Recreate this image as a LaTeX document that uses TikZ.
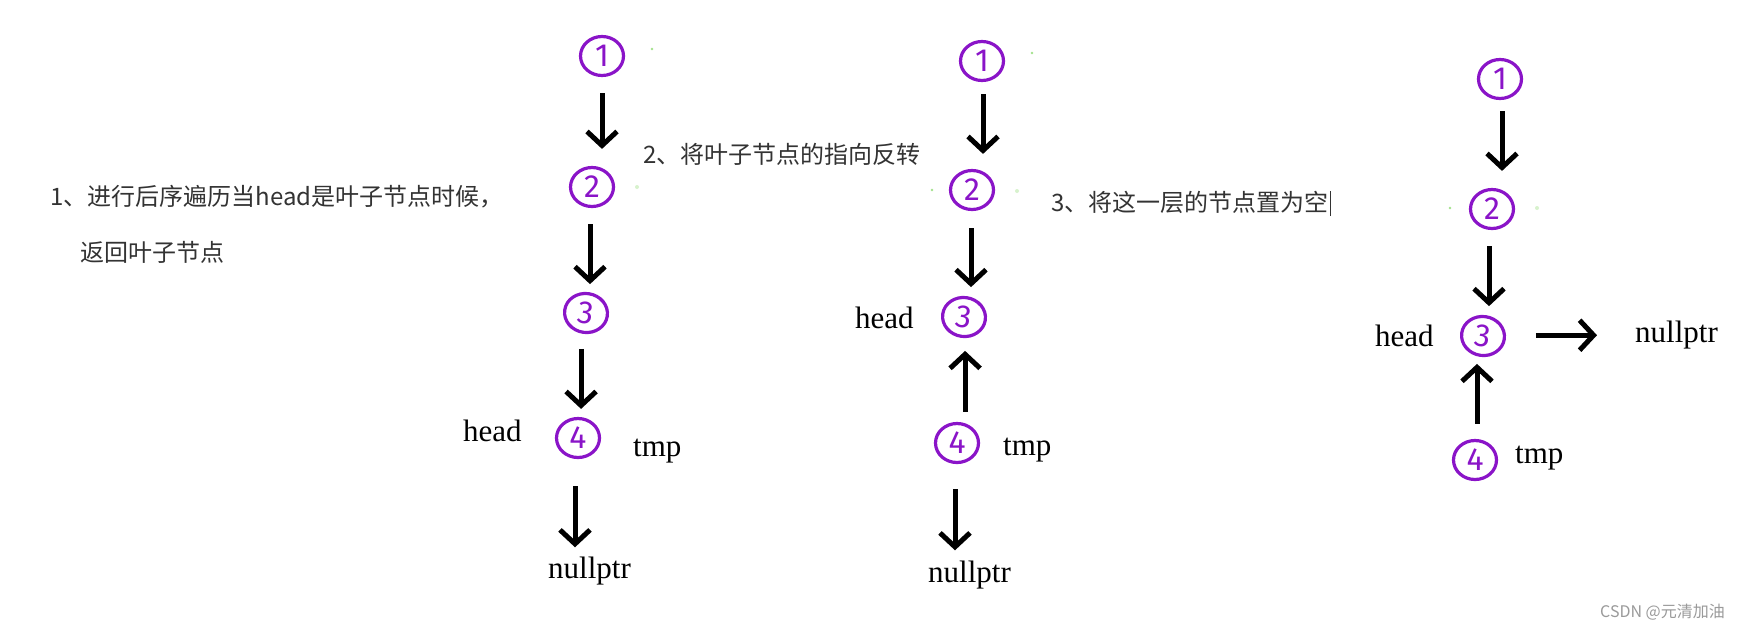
\documentclass[tikz,border=0pt]{standalone}
\usepackage{fontspec}
\setmainfont{Liberation Serif}
\newfontfamily\cjk{Noto Sans CJK SC}
\newfontfamily\digitfont{Fira Sans}
\usetikzlibrary{arrows.meta,shapes.geometric,calc}
\definecolor{nodepurple}{HTML}{8A14C8}
\definecolor{txtgrey}{HTML}{333333}
\definecolor{wmgrey}{HTML}{9A9A9A}
\definecolor{speck}{HTML}{7CD65A}
\begin{document}
\begin{tikzpicture}[x=1pt,y=-1pt,
  listnode/.style={ellipse, draw=nodepurple, line width=3.2pt, minimum width=43pt, minimum height=39pt, inner sep=0pt, text=nodepurple, font=\digitfont\fontsize{32}{32}\selectfont},
  ptrlabel/.style={anchor=base west, inner sep=0pt, font=\fontsize{31}{31}\selectfont},
  note/.style={anchor=base west, inner sep=0pt, text=txtgrey, font=\cjk\fontsize{24}{24}\selectfont},
  arr/.style={line width=5pt, -{Straight Barb[length=14pt,width=30pt]}},
  speckdot/.style={fill=speck, opacity=0.7},
]
\useasboundingbox (0,0) rectangle (1750,630);
\fill[white] (0,0) rectangle (1750,630);

% notes
\node[note] (t1a) at (50,205) {1、进行后序遍历当head是叶子节点时候，};
\node[note] (t1b) at (80,261) {返回叶子节点};
\node[note] (t2) at (643,163) {2、将叶子节点的指向反转};
\node[note] (t3) at (1051,211) {3、将这一层的节点置为空};
\draw[line width=1.3pt, txtgrey] ($(t3.base east)+(2,5)$) -- ($(t3.base east)+(2,-20)$);

% column 1
\node[listnode] (c1n1) at (602,56) {1};
\node[listnode] (c1n2) at (592,187) {2};
\node[listnode, rotate=-8] (c1n3) at (586,313) {3};
\node[listnode] (c1n4) at (578,438) {4};
\node[ptrlabel] (head1) at (463,441) {head};
\node[ptrlabel] (tmp1) at (633,456) {tmp};
\node[ptrlabel] (null1) at (548,578) {nullptr};
\draw[arr] ($(c1n1.south)+(0,16)$) -- ($(c1n1.south |- c1n2.north)+(0,-17)$);
\draw[arr] ($(c1n2.south)+(-2,16)$) -- ($(c1n2.south |- c1n3.north)+(-2,-8)$);
\draw[arr] ($(c1n3.south)+(-2,15)$) -- ($(c1n3.south |- c1n4.north)+(-2,-8)$);
\draw[arr] ($(c1n4.south)+(-3,27)$) -- ($(c1n4.south |- null1.north)+(-3,-9)$);

% column 2
\node[listnode] (c2n1) at (982,61) {1};
\node[listnode] (c2n2) at (972,190) {2};
\node[listnode, rotate=-8] (c2n3) at (964,317) {3};
\node[listnode] (c2n4) at (957,443) {4};
\node[ptrlabel] (head2) at (855,328) {head};
\node[ptrlabel] (tmp2) at (1003,455) {tmp};
\node[ptrlabel] (null2) at (928,582) {nullptr};
\draw[arr] ($(c2n1.south)+(1,12)$) -- ($(c2n1.south |- c2n2.north)+(1,-15)$);
\draw[arr] ($(c2n2.south)+(-1,17)$) -- ($(c2n2.south |- c2n3.north)+(-1,-9)$);
\draw[arr] ($(c2n3.south |- c2n4.north)+(4,-10)$) -- ($(c2n3.south)+(4,13)$);
\draw[arr] ($(c2n4.south)+(-2,25)$) -- ($(c2n4.south |- null2.north)+(-2,-10)$);

% column 3
\node[listnode] (c3n1) at (1500,79) {1};
\node[listnode] (c3n2) at (1492,209) {2};
\node[listnode, rotate=-8] (c3n3) at (1483,336) {3};
\node[listnode] (c3n4) at (1475,460) {4};
\node[ptrlabel] (head3) at (1375,346) {head};
\node[ptrlabel] (tmp3) at (1515,463) {tmp};
\node[ptrlabel] (null3) at (1635,342) {nullptr};
\draw[arr] ($(c3n1.south)+(2,11)$) -- ($(c3n1.south |- c3n2.north)+(2,-17)$);
\draw[arr] ($(c3n2.south)+(-3,16)$) -- ($(c3n2.south |- c3n3.north)+(-3,-9)$);
\draw[arr] ($(c3n4.north)+(2,-15)$) -- ($(c3n4.north |- c3n3.south)+(2,7)$);
\draw[arr] ($(c3n3.east)+(30,-4)$) -- ($(null3.west |- c3n3.east)+(-38,-4)$);

% small green specks
\fill[speckdot] (652,49) circle (1.3);
\fill[speckdot, opacity=0.3] (637,187) circle (2);
\fill[speckdot] (1032,53) circle (1.3);
\fill[speckdot] (932,190) circle (1.3);
\fill[speckdot, opacity=0.3] (1017,191) circle (2);
\fill[speckdot] (1450,208) circle (1.3);
\fill[speckdot, opacity=0.3] (1537,208) circle (2);

% watermark
\node[anchor=base west, inner sep=0pt, text=wmgrey, font=\cjk\fontsize{16}{16}\selectfont] (wm) at (1600,617) {CSDN @元清加油};
\end{tikzpicture}
\end{document}
